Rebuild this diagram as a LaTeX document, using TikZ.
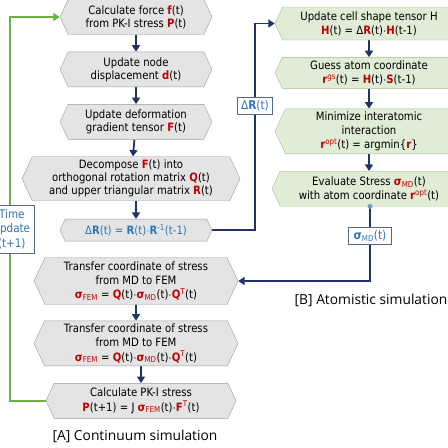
\documentclass[tikz,border=0pt]{standalone}
\usepackage{fontspec}
\setmainfont{DejaVu Sans}[FakeStretch=0.88]
\newfontfamily\capfont{Open Sans}
\usetikzlibrary{positioning,shapes.symbols,arrows.meta,backgrounds}

\definecolor{femfill}{HTML}{E4E4E4}
\definecolor{femline}{HTML}{9C9C9C}
\definecolor{mdfill}{HTML}{E0ECD6}
\definecolor{mdline}{HTML}{A4BC8A}
\definecolor{navy}{HTML}{1F3466}
\definecolor{vred}{HTML}{C00000}
\definecolor{vblue}{HTML}{2E75B6}
\definecolor{loopgreen}{HTML}{70AD47}

\newcommand\redv[1]{\textbf{\color{vred}#1}}
\newcommand\bluev[1]{\textbf{\color{vblue}#1}}
\newcommand\sigv[2]{{\color{#1}\textbf{σ}\textsubscript{#2}}}

\begin{document}
\begin{tikzpicture}[x=1pt, y=1pt, >=Triangle,
  fem/.style={signal, signal to=west and east, signal pointer angle=130,
    draw=femline, fill=femfill, align=center, inner xsep=1pt, inner ysep=1pt,
    font=\fontsize{11.5}{13}\selectfont},
  tall/.style={font=\fontsize{11.5}{14.2}\selectfont},
  md/.style={fem, tall, draw=mdline, fill=mdfill},
  tag/.style={draw=navy!75, fill=white, text=vblue, inner xsep=3.5pt, inner ysep=3pt,
    line width=0.8pt, font=\fontsize{12}{14}\selectfont},
  caption/.style={font=\capfont\fontsize{13.8}{16}\selectfont},
  link/.style={draw=navy, line width=1.8pt},
  flow/.style={link, -{Triangle[length=6.5pt, width=8pt]}},
  loopline/.style={draw=loopgreen, line width=1.4pt, -{Triangle[length=6.5pt, width=8pt]}}]

  \useasboundingbox (0,0) rectangle (448,-448);
  \clip (0,0) rectangle (448,-448);

  % [A] continuum side
  \node[fem, minimum width=152pt, minimum height=35pt] (force) at (136,-17)
    {Calculate force \redv{f}(t)\\from PK-I stress \redv{P}(t)};
  \node[fem, minimum width=152pt, minimum height=35pt, below=17pt of force] (disp)
    {Update node\\displacement \redv{d}(t)};
  \node[fem, minimum width=152pt, minimum height=35pt, below=17pt of disp] (grad)
    {Update deformation\\gradient tensor \redv{F}(t)};
  \node[fem, minimum width=218pt, minimum height=44pt, below=17pt of grad, xshift=-5pt] (decomp)
    {Decompose \redv{F}(t) into\\orthogonal rotation matrix \redv{Q}(t)\\and upper triangular matrix \redv{R}(t)};
  \node[fem, minimum width=152pt, minimum height=22pt, below=18pt of decomp, xshift=5pt,
    text=vblue] (delta)
    {Δ\bluev{R}(t) = \bluev{R}(t)$\cdot$\bluev{R}\textsuperscript{-1}(t-1)};
  \node[fem, tall, minimum width=204pt, minimum height=47pt, below=16pt of delta] (transA)
    {Transfer coordinate of stress\\from MD to FEM\\\sigv{vred}{FEM} = \redv{Q}(t)$\cdot$\sigv{vred}{MD}(t)$\cdot$\redv{Q}\textsuperscript{\color{vred}T}(t)};
  \node[fem, tall, minimum width=204pt, minimum height=45pt, below=16pt of transA] (transB)
    {Transfer coordinate of stress\\from MD to FEM\\\sigv{vred}{FEM} = \redv{Q}(t)$\cdot$\sigv{vred}{MD}(t)$\cdot$\redv{Q}\textsuperscript{\color{vred}T}(t)};
  \node[fem, tall, minimum width=190pt, minimum height=35pt, below=17pt of transB, xshift=5pt] (pk)
    {Calculate PK-I stress\\\redv{P}(t+1) = J \sigv{vred}{FEM}(t)$\cdot$\redv{F}\textsuperscript{\color{vred}T}(t)};
  \node[caption] (capA) at (135,-436) {[A] Continuum simulation};

  % [B] atomistic side
  \node[md, minimum width=188pt, minimum height=33pt] (cell) at (369,-23.5)
    {Update cell shape tensor H\\\redv{H}(t) = Δ\redv{R}(t)$\cdot$\redv{H}(t-1)};
  \node[md, minimum width=188pt, minimum height=31pt, below=17pt of cell] (guess)
    {Guess atom coordinate\\\redv{r}\textsuperscript{\color{vred}gs}(t) = \redv{H}(t)$\cdot$\redv{S}(t-1)};
  \node[md, minimum width=188pt, minimum height=45pt, below=20pt of guess] (mini)
    {Minimize interatomic\\interaction\\\redv{r}\textsuperscript{\color{vred}opt}(t) = argmin\{\redv{r}\}};
  \node[md, minimum width=194pt, minimum height=35pt, below=17pt of mini] (eval)
    {Evaluate Stress \sigv{vred}{MD}(t)\\with atom coordinate \redv{r}\textsuperscript{\color{vred}opt}(t)};
  \node[caption] (capB) at (371,-300) {[B] Atomistic simulation};

  % labels on connectors
  \node[tag] (dRtag) at (255,-106) {Δ\bluev{R}(t)};
  \node[tag, inner xsep=5pt] (sMDtag) at (370,-236) {\sigv{vblue}{MD}(t)};
  \node[tag, align=center, anchor=east, minimum height=48pt, inner xsep=4.5pt,
    font=\fontsize{11.8}{14.5}\selectfont] (timetag) at (35,-229) {Time\\update\\(t+1)};
  \coordinate (backx) at (10,0);

  \begin{pgfonlayer}{background}
    \draw[flow] (force) -- (disp);
    \draw[flow] (disp) -- (grad);
    \draw[flow] (grad) -- (decomp);
    \draw[flow] (decomp.south -| delta) -- (delta);
    \draw[flow] (transA) -- (transB);
    \draw[flow] (transB.south -| pk) -- (pk);
    \draw[flow] (cell) -- (guess);
    \draw[flow] (guess) -- (mini);
    \draw[flow] (mini) -- (eval);
    \draw[link] (delta.east) -| (dRtag);
    \draw[flow] (dRtag) |- (cell.west);
    \draw[link] (eval.south -| sMDtag) -- (sMDtag);
    \draw[flow] (sMDtag) |- (transA.east);
    \draw[loopline] (pk.west) -- (pk.west -| backx) |- (force.west);
  \end{pgfonlayer}
  \fill[vblue!70] (eval.south -| sMDtag) circle (2.5pt);

\end{tikzpicture}
\end{document}
